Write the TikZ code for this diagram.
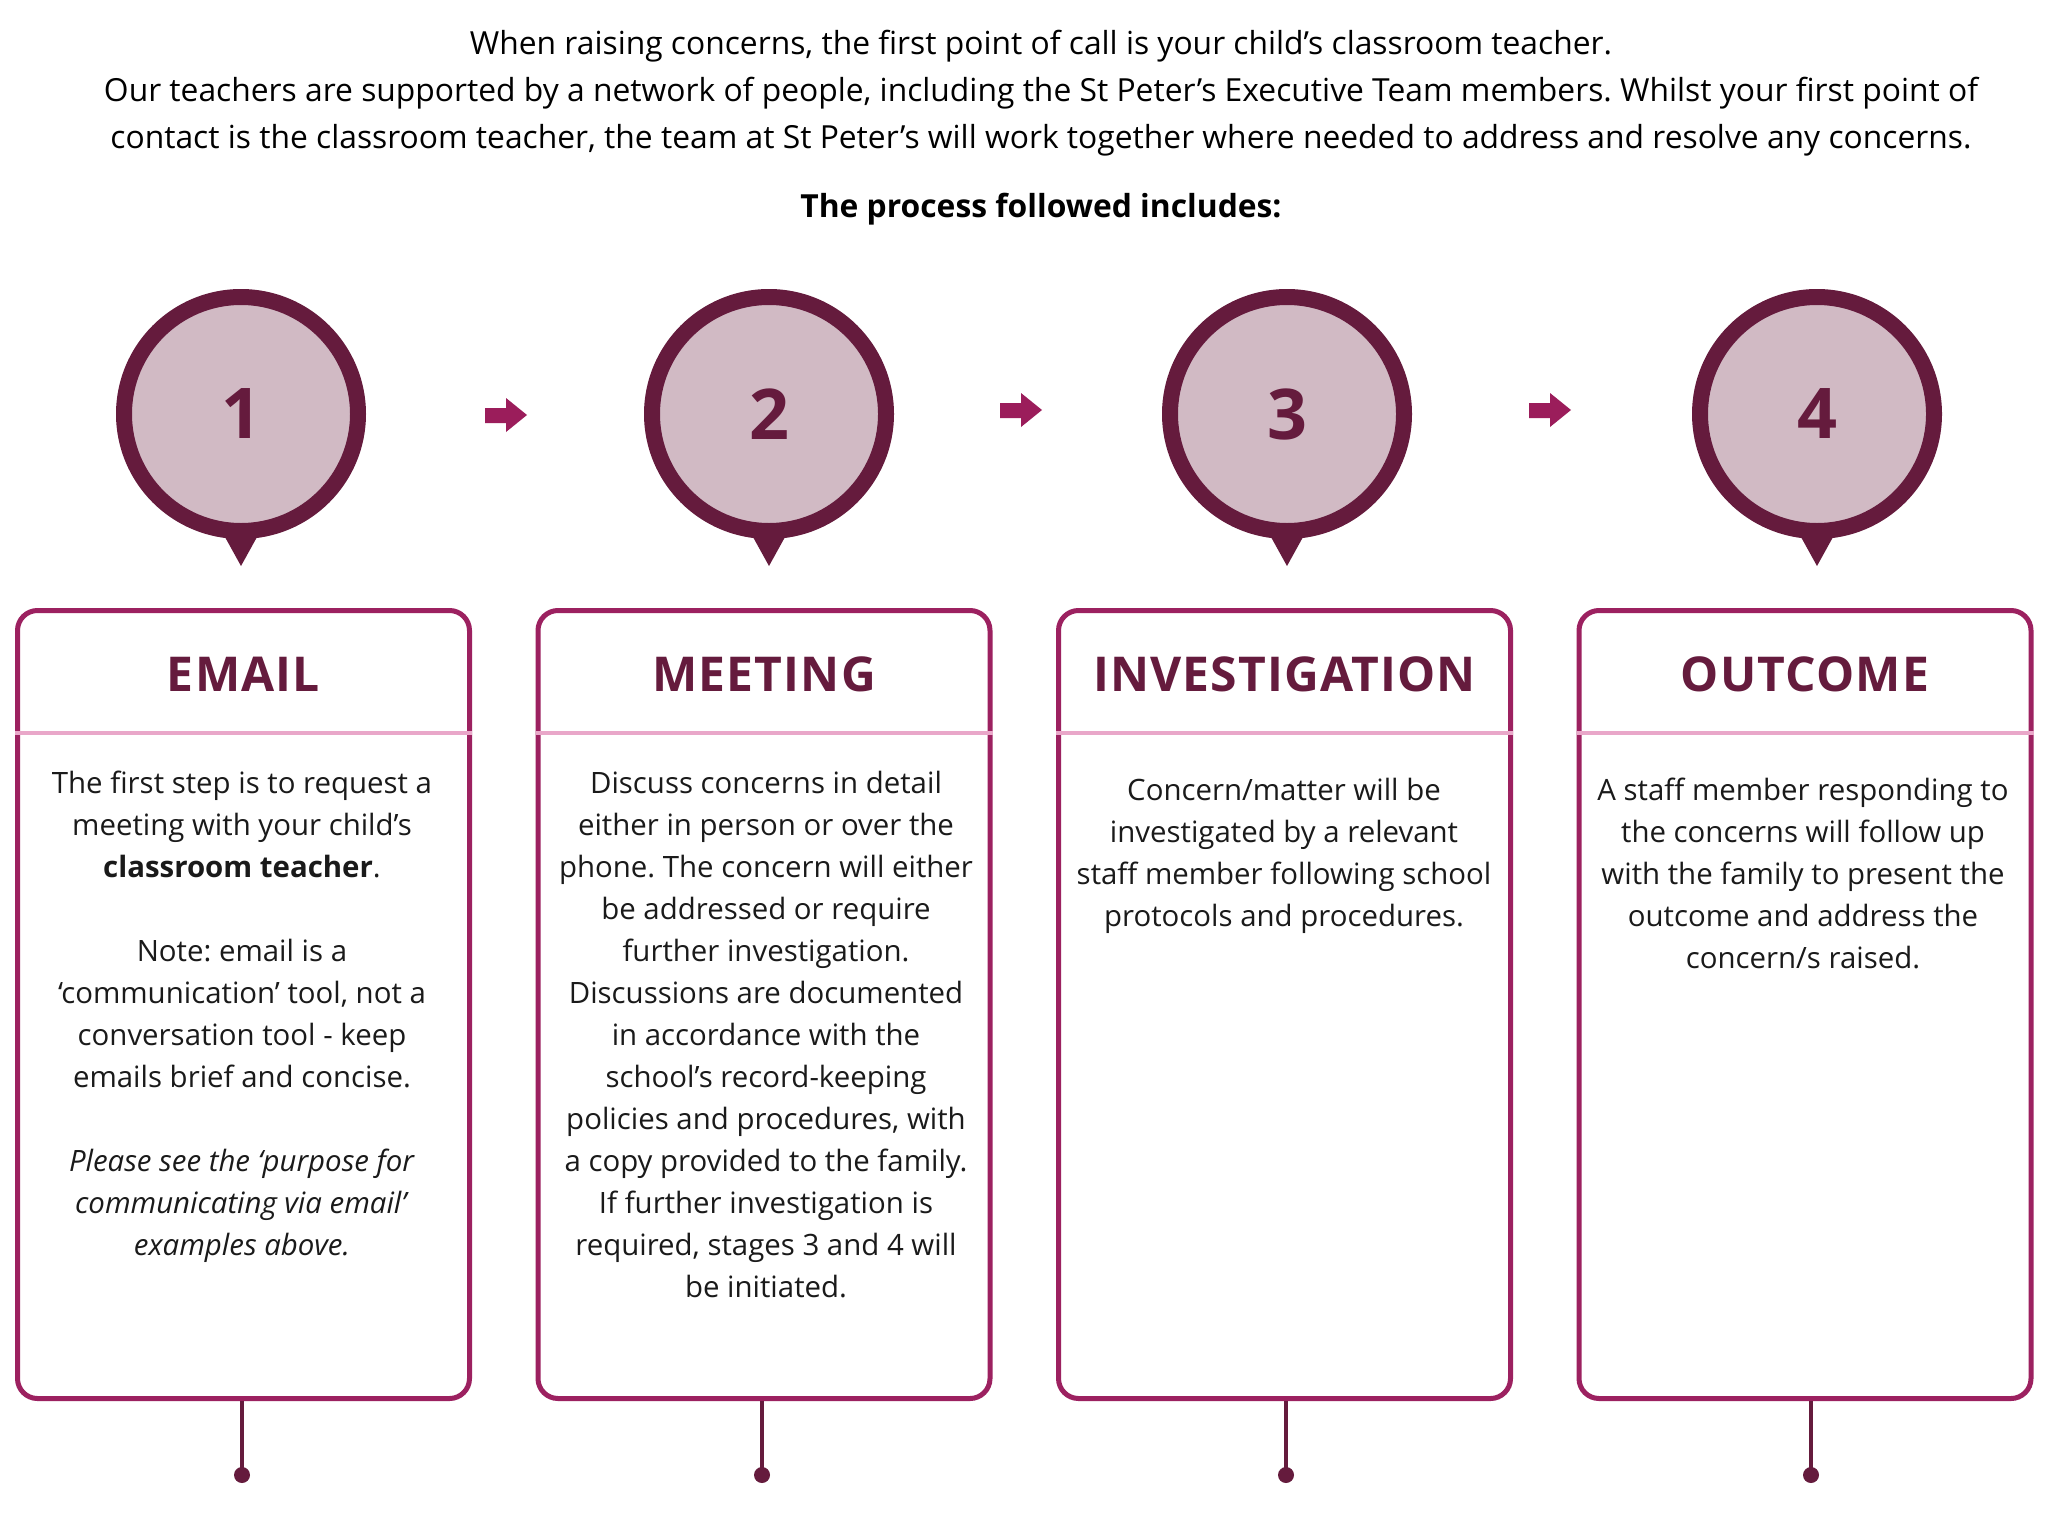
\documentclass[tikz,border=0pt]{standalone}
\usepackage{fontspec}
\setmainfont{Open Sans}
\newfontfamily\headfont[LetterSpace=2.5]{Open Sans}
\definecolor{dark}{HTML}{651B3D}
\definecolor{light}{HTML}{D1BAC4}
\definecolor{border}{HTML}{9C2160}
\definecolor{arrowc}{HTML}{9B1D5B}
\definecolor{pinkline}{HTML}{E9A7C9}
\definecolor{ink}{HTML}{1A1A1A}
\frenchspacing
\begin{document}
\begin{tikzpicture}[x=1pt,y=-1pt,
  ring/.style={circle, draw=dark, fill=light, line width=16pt, minimum size=234pt, inner sep=0pt,
    font=\fontsize{70}{70}\selectfont\bfseries, text=dark},
  stepbox/.style={draw=border, line width=5pt, rounded corners=20pt, minimum width=452pt,
    minimum height=788pt, inner sep=0pt},
  headtxt/.style={font=\headfont\fontsize{48}{48}\selectfont\bfseries, text=dark, inner sep=0pt},
  body/.style={font=\fontsize{29.4}{42}\selectfont, text=ink, align=center, inner sep=0pt, anchor=north},
  intro/.style={font=\fontsize{31.8}{47}\selectfont, text=black, align=center, inner sep=0pt},
  sepline/.style={draw=pinkline, line width=4pt},
  flowarrow/.style={fill=arrowc},
  stem/.style={draw=dark, line width=4pt},
  enddot/.style={circle, fill=dark, minimum size=16pt, inner sep=0pt},
  pin/.style={fill=dark}
]
\useasboundingbox[fill=white] (0,0) rectangle (2048,1536);

% intro text
\node[intro, anchor=north] (intro) at (1041,30) {When raising concerns, the first point of call is your child’s classroom teacher.\\
Our teachers are supported by a network of people, including the St Peter’s Executive Team members. Whilst your first point of\\
contact is the classroom teacher, the team at St Peter's will work together where needed to address and resolve any concerns.};
\node[intro, font=\fontsize{31.8}{47}\selectfont\bfseries] (process) at (1041,209) {The process followed includes:};

% circles with pointers
\foreach \i/\cx in {1/241,2/769,3/1287,4/1817}{
  \fill[pin] (\cx-21,528) -- (\cx+21,528) -- (\cx,566) -- cycle;
  \node[ring] (c\i) at (\cx,414) {\i};
}

% arrows between circles
\fill[flowarrow] (485,408) -- (506,408) -- (506,398) -- (527,415) -- (506,432) -- (506,423) -- (485,423) -- cycle;
\fill[flowarrow] (1000,403) -- (1021,403) -- (1021,393) -- (1042,410) -- (1021,427) -- (1021,418) -- (1000,418) -- cycle;
\fill[flowarrow] (1529,403) -- (1550,403) -- (1550,393) -- (1571,410) -- (1550,427) -- (1550,418) -- (1529,418) -- cycle;

% boxes
\foreach \i/\bx/\dx/\title in {1/243.5/242/EMAIL,2/764/762/MEETING,3/1284.5/1286/INVESTIGATION,4/1805/1811/OUTCOME}{
  \node[stepbox] (b\i) at (\bx,1004.5) {};
  \draw[sepline] (\bx-228.5,733) -- (\bx+228.5,733);
  \node[headtxt] (h\i) at (\bx,674) {\title};
  \node[enddot] (d\i) at (\dx,1475) {};
  \draw[stem] (d\i.center) -- (d\i |- b\i.south);
}

% body texts
\node[body] (t1) at (242,771) {The first step is to request a\\
meeting with your child’s\\
\textbf{classroom teacher}.\\[42pt]
Note: email is a\\
‘communication’ tool, not a\\
conversation tool - keep\\
emails brief and concise.\\[42pt]
\textit{Please see the ‘purpose for}\\
\textit{communicating via email’}\\
\textit{examples above.}};

\node[body] (t2) at (766,771) {Discuss concerns in detail\\
either in person or over the\\
phone. The concern will either\\
be addressed or require\\
further investigation.\\
Discussions are documented\\
in accordance with the\\
school’s record-keeping\\
policies and procedures, with\\
a copy provided to the family.\\
If further investigation is\\
required, stages 3 and 4 will\\
be initiated.};

\node[body] (t3) at (1284,778) {Concern/matter will be\\
investigated by a relevant\\
staff member following school\\
protocols and procedures.};

\node[body] (t4) at (1803,778) {A staff member responding to\\
the concerns will follow up\\
with the family to present the\\
outcome and address the\\
concern/s raised.};
\end{tikzpicture}
\end{document}
